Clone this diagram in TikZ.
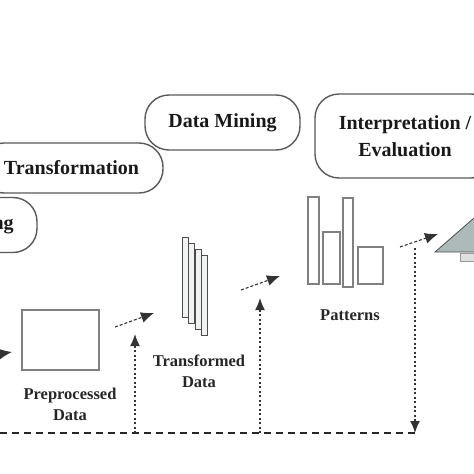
\documentclass[tikz,border=0pt]{standalone}
\usepackage{fontspec}
\setmainfont{Liberation Serif}
\usetikzlibrary{arrows.meta}
\begin{document}
\begin{tikzpicture}[x=1pt,y=-1pt,
  stagebox/.style={draw=black!65, line width=1.4pt, rounded corners=24pt, align=center,
    font=\fontsize{20}{27}\selectfont\bfseries, inner sep=0pt, text=black!90},
  lbl/.style={align=center, font=\fontsize{16.5}{21}\selectfont\bfseries, text=black!85},
  flowarrow/.style={densely dashed, line width=1.1pt, draw=black!80,
    -{Latex[length=13pt,width=11pt]}},
  dotarrow/.style={dash pattern=on 2pt off 2.5pt, line width=1.4pt, draw=black!80,
    -{Latex[length=12pt,width=10pt]}},
  baseline/.style={line width=2.4pt, dash pattern=on 7pt off 5pt, draw=black!85},
  slab/.style={draw=black!70, fill=cyan!5!gray!12, line width=0.9pt},
  bar/.style={draw=black!50, line width=1.6pt, fill=white},
  datarect/.style={draw=black!50, line width=1.6pt, minimum width=77pt, minimum height=60pt, inner sep=0pt}
]
\useasboundingbox (0,0) rectangle (474,474);
\clip (0,0) rectangle (474,474);

% stage boxes
\node[stagebox, minimum width=166pt, minimum height=55pt] (pre) at (-46,225) {Preprocessing};
\node[stagebox, minimum width=183pt, minimum height=50pt] (trans) at (71.5,168) {Transformation};
\node[stagebox, minimum width=155pt, minimum height=55pt] (mine) at (222.5,122.5) {Data Mining};
\node[stagebox, minimum width=180pt, minimum height=84pt] (interp) at (405,136) {Interpretation /\\Evaluation};

% preprocessed data
\node[datarect] (pdata) at (60.5,340) {};
\node[lbl] (plbl) at (70,404) {Preprocessed\\Data};

% transformed data slabs
\foreach \i in {0,1,2,3} {
  \draw[slab] ({182+6.6*\i},{237+6*\i}) rectangle ++(6,80);
}
\node[lbl] (tlbl) at (199,371) {Transformed\\Data};

% patterns bars
\draw[bar] (308,197) rectangle (319,284);
\draw[bar] (323,232) rectangle (340,284);
\draw[bar] (343,198) rectangle (353,287);
\draw[bar] (358,247) rectangle (383,284);
\node[lbl] (patlbl) at (350,315) {Patterns};

% knowledge
\draw[draw=black!40, line width=0.8pt, fill=black!12] (460,253) rectangle (495,261);
\draw[draw=black!70, line width=0.8pt, fill=teal!15!gray!55] (435,252) -- (505,191) -- (560,252) -- cycle;

% coordinates for connectors
\coordinate (a0s) at (-20,357);
\coordinate (a0e) at (12,352);
\coordinate (a1s) at (115,327);
\coordinate (a1e) at (154,313);
\coordinate (a2s) at (241,290);
\coordinate (a2e) at (280,276);
\coordinate (a3s) at (400,247);
\coordinate (a3e) at (438,234);
\coordinate (b0) at (0,433);
\coordinate (b1) at (135,433);
\coordinate (b2) at (260,433);
\coordinate (b3) at (415,433);
\coordinate (u1) at (135,334);
\coordinate (u2) at (260,298);
\coordinate (d3) at (415,248);

\draw[flowarrow] (a0s) -- (a0e);
\draw[flowarrow] (a1s) -- (a1e);
\draw[flowarrow] (a2s) -- (a2e);
\draw[flowarrow] (a3s) -- (a3e);

\draw[baseline] (b0) -- (b3);
\draw[dotarrow] (b1) -- (u1);
\draw[dotarrow] (b2) -- (u2);
\draw[dotarrow] (d3) -- (b3);
\end{tikzpicture}
\end{document}
